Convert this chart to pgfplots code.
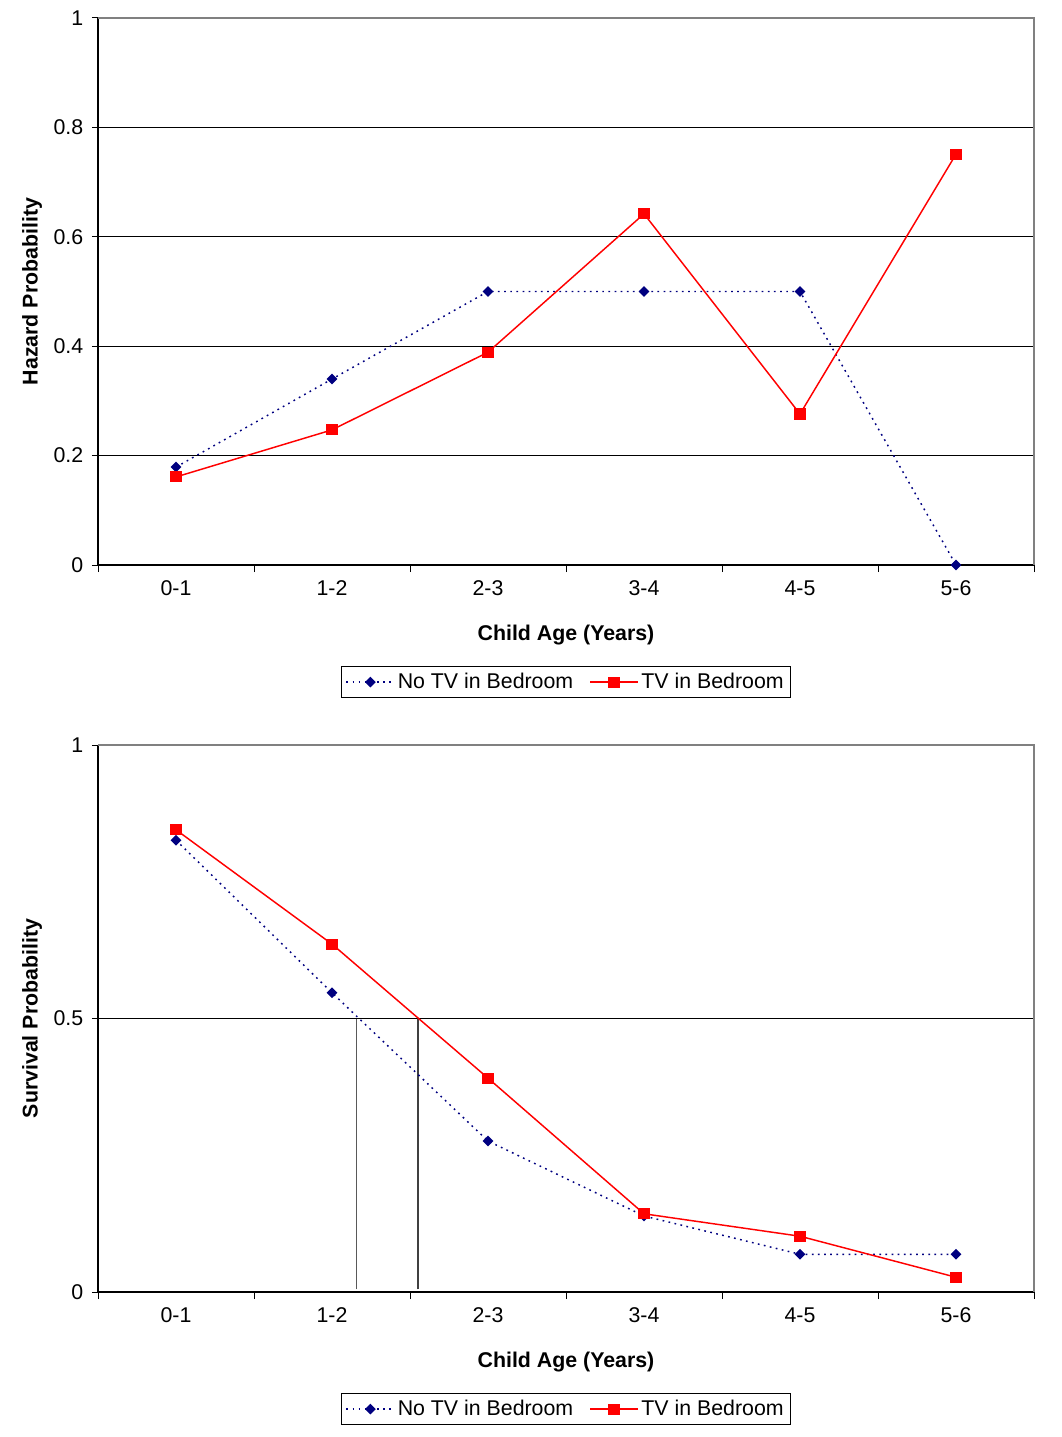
\documentclass[border=0pt]{standalone}
\usepackage{pgfplots}
\pgfplotsset{compat=1.18}
\usepackage{fontspec}
\setmainfont{Liberation Sans}
\definecolor{navyb}{HTML}{000080}
\definecolor{redr}{HTML}{FF0000}
\newcommand{\chfont}{\fontsize{16}{19}\selectfont}
\pgfplotsset{
  mystyle/.style={
    scale only axis, width=702pt, height=410.25pt,
    xmin=-0.5, xmax=5.5, ymin=0, ymax=1,
    clip=false,
    axis lines=left, axis line style={-, black, line width=1pt},
    xtick={0,...,5}, xticklabels={0-1,1-2,2-3,3-4,4-5,5-6},
    minor xtick={-0.5,0.5,...,5.5},
    tick align=outside,
    major x tick style={draw=none},
    minor x tick style={black, line width=0.75pt},
    minor tick length=5.25pt,
    major tick length=4.5pt,
    major y tick style={black, line width=0.75pt},
    ymajorgrids, major grid style={black, line width=0.75pt},
    tick label style={font=\chfont},
    xticklabel style={yshift=-3.75pt},
    yticklabel style={xshift=-3pt},
    /pgf/number format/assume math mode=true,
    label style={font=\chfont\bfseries},
    xlabel={Child Age (Years)},
    xlabel style={at={(axis description cs:0.5,-0.128)}, anchor=center},
    ylabel style={at={(axis description cs:-0.0705,0.5)}, anchor=center},
    legend columns=2,
    legend style={at={(axis description cs:0.5,-0.214)}, anchor=center,
      draw=black, line width=0.75pt, font=\chfont, inner sep=3pt,
      /tikz/every even column/.append style={column sep=10pt}},
    legend image code/.code={\draw[mark repeat=2, mark phase=2, ##1] plot coordinates {(0pt,0pt) (18pt,0pt) (36pt,0pt)};},
  },
  noTV/.style={navyb, draw=navyb, line width=1.1pt, dash pattern=on 1.3pt off 3.3pt,
    mark=square*, mark size=2.3pt, mark options={solid, rotate=45, fill=navyb, draw=navyb}},
  TV/.style={redr, draw=redr, line width=1.1pt, mark=square*, mark size=3.6pt, mark options={solid, fill=redr, draw=redr}},
}
\begin{document}
\begin{tikzpicture}
\path[use as bounding box] (0,0) rectangle (795.75pt,-1077.75pt);
\begin{axis}[mystyle, at={(73.5pt,-423.75pt)}, anchor=south west,
  ytick={0,0.2,0.4,0.6,0.8,1}, yticklabels={0,0.2,0.4,0.6,0.8,1},
  ylabel={Hazard Probability}]
\addplot[noTV] coordinates {(0,0.179) (1,0.340) (2,0.5) (3,0.5) (4,0.5) (5,0)};
\addlegendentry{No TV in Bedroom}
\addplot[TV] coordinates {(0,0.161) (1,0.247) (2,0.389) (3,0.642) (4,0.276) (5,0.751)};
\addlegendentry{TV in Bedroom}
\draw[black!50, line width=1pt] (rel axis cs:0,1) -- (rel axis cs:1,1) -- (rel axis cs:1,0);
\end{axis}
\begin{axis}[mystyle, at={(73.5pt,-969pt)}, anchor=south west,
  ytick={0,0.5,1}, yticklabels={0,0.5,1},
  ylabel={Survival Probability}]
\addplot[black!65, line width=1pt, forget plot] coordinates {(1.157,0.005) (1.157,0.5)};
\addplot[black!75, line width=1pt, forget plot] coordinates {(1.551,0.005) (1.551,0.5)};
\addplot[noTV] coordinates {(0,0.826) (1,0.547) (2,0.276) (3,0.139) (4,0.069) (5,0.069)};
\addlegendentry{No TV in Bedroom}
\addplot[TV] coordinates {(0,0.845) (1,0.636) (2,0.391) (3,0.143) (4,0.102) (5,0.027)};
\addlegendentry{TV in Bedroom}
\draw[black!50, line width=1pt] (rel axis cs:0,1) -- (rel axis cs:1,1) -- (rel axis cs:1,0);
\end{axis}
\end{tikzpicture}
\end{document}
